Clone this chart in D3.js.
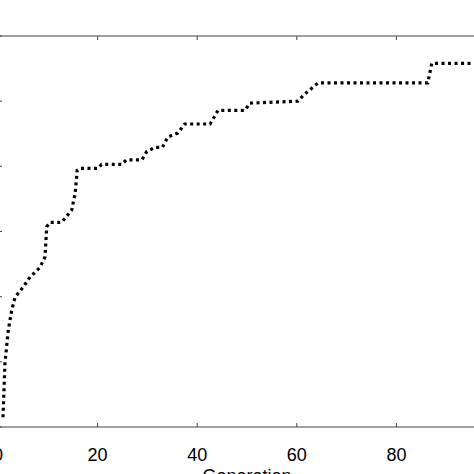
<!DOCTYPE html><html><head><script src="https://cdn.jsdelivr.net/npm/d3@7"></script>
<style>body{margin:0;background:#fff}</style></head><body><svg id="c" width="474" height="474"></svg>
<script>
const generations=[1,1.4,2.07,2.75,3.41,5.08,6.43,8.43,9.44,9.78,10.4,12.8,14.8,15.5,15.9,16.5,20.1,20.8,24.8,25.8,28.9,29.9,31.5,33,34.1,36.1,37.5,42.6,44.2,49.6,50.6,60.2,61.6,64.3,86.3,87.1,100];
const fitness=[0.15,0.98,1.49,1.79,1.99,2.15,2.30,2.45,2.61,3.07,3.14,3.14,3.33,3.59,3.94,3.97,3.97,4.03,4.03,4.10,4.10,4.23,4.29,4.29,4.45,4.51,4.65,4.65,4.86,4.86,4.97,5.0,5.11,5.28,5.28,5.58,5.58];
const xTicks=[0,20,40,60,80];
const yTicks=[0,1,2,3,4,5,6];
const svg=d3.select("#c");
const x=d3.scaleLinear().domain([0,100]).range([-2,496]);
const y=d3.scaleLinear().domain([0,6]).range([427,36]);
const g=svg.append("g");
g.append("rect").attr("x",x(0)).attr("y",y(6)).attr("width",x(100)-x(0)).attr("height",y(0)-y(6)).attr("fill","none").attr("stroke","#444").attr("stroke-width",1);
xTicks.forEach(t=>{
  g.append("line").attr("x1",x(t)).attr("x2",x(t)).attr("y1",y(0)).attr("y2",y(0)-4).attr("stroke","#444");
  g.append("line").attr("x1",x(t)).attr("x2",x(t)).attr("y1",y(6)).attr("y2",y(6)+4).attr("stroke","#444");
  g.append("text").attr("x",x(t)).attr("y",461).attr("text-anchor","middle").attr("font-family","Liberation Sans, Arial").attr("font-size",18).text(t);
});
yTicks.forEach(t=>{
  g.append("line").attr("x1",x(0)).attr("x2",x(0)+4).attr("y1",y(t)).attr("y2",y(t)).attr("stroke","#444");
});
g.append("text").attr("x",x(50)).attr("y",482).attr("text-anchor","middle").attr("font-family","Liberation Sans, Arial").attr("font-size",18).text("Generation");
const line=d3.line().x((d,i)=>x(generations[i])).y(d=>y(d));
g.append("path").attr("d",line(fitness)).attr("fill","none").attr("stroke","#000").attr("stroke-width",3.2).attr("stroke-dasharray","3,3.5");
</script></body></html>
